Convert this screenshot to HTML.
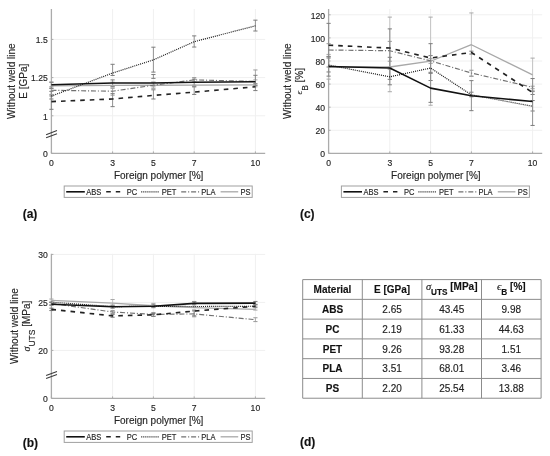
<!DOCTYPE html><html><head><meta charset="utf-8"><style>html,body{margin:0;padding:0;background:#fff;}svg{display:block;filter:blur(0.3px)} text{font-family:"Liberation Sans", Arial, Helvetica, sans-serif;fill:#262626;stroke:#262626;stroke-width:0.15px} .tk{font-size:8.6px} .lab{font-size:10px} .lg{font-size:8.2px} .pl{font-size:12px;font-weight:bold;fill:#111} .th{font-size:10px;font-weight:bold;fill:#111} .td{font-size:10px;fill:#222}</style></head><body><svg width="550" height="456" viewBox="0 0 550 456">
<rect width="550" height="456" fill="#fff"/>
<line x1="51.40" y1="115.80" x2="265.20" y2="115.80" stroke="#f0f0f0" stroke-width="1"/>
<line x1="51.40" y1="77.60" x2="265.20" y2="77.60" stroke="#f0f0f0" stroke-width="1"/>
<line x1="51.40" y1="39.40" x2="265.20" y2="39.40" stroke="#f0f0f0" stroke-width="1"/>
<line x1="112.60" y1="9.00" x2="112.60" y2="153.40" stroke="#f0f0f0" stroke-width="1"/>
<line x1="153.40" y1="9.00" x2="153.40" y2="153.40" stroke="#f0f0f0" stroke-width="1"/>
<line x1="194.20" y1="9.00" x2="194.20" y2="153.40" stroke="#f0f0f0" stroke-width="1"/>
<line x1="255.40" y1="9.00" x2="255.40" y2="153.40" stroke="#f0f0f0" stroke-width="1"/>
<line x1="51.40" y1="9.00" x2="51.40" y2="153.40" stroke="#ababab" stroke-width="1.3"/>
<line x1="51.40" y1="153.40" x2="265.20" y2="153.40" stroke="#ababab" stroke-width="1.3"/>
<path d="M51.40 88.30V82.18" stroke="#c2c2c2" stroke-width="0.95" fill="none"/>
<path d="M49.30 88.30h4.2M49.30 82.18h4.2" stroke="#a8a8a8" stroke-width="1.0" fill="none"/>
<path d="M112.60 86.77V82.18" stroke="#c2c2c2" stroke-width="0.95" fill="none"/>
<path d="M110.50 86.77h4.2M110.50 82.18h4.2" stroke="#a8a8a8" stroke-width="1.0" fill="none"/>
<path d="M153.40 86.77V82.18" stroke="#c2c2c2" stroke-width="0.95" fill="none"/>
<path d="M151.30 86.77h4.2M151.30 82.18h4.2" stroke="#a8a8a8" stroke-width="1.0" fill="none"/>
<path d="M194.20 86.77V82.18" stroke="#c2c2c2" stroke-width="0.95" fill="none"/>
<path d="M192.10 86.77h4.2M192.10 82.18h4.2" stroke="#a8a8a8" stroke-width="1.0" fill="none"/>
<path d="M255.40 86.77V79.89" stroke="#c2c2c2" stroke-width="0.95" fill="none"/>
<path d="M253.30 86.77h4.2M253.30 79.89h4.2" stroke="#a8a8a8" stroke-width="1.0" fill="none"/>
<path d="M51.40 94.41V86.77" stroke="#a8a8a8" stroke-width="0.95" fill="none"/>
<path d="M49.30 94.41h4.2M49.30 86.77h4.2" stroke="#9a9a9a" stroke-width="1.0" fill="none"/>
<path d="M112.60 95.17V88.30" stroke="#a8a8a8" stroke-width="0.95" fill="none"/>
<path d="M110.50 95.17h4.2M110.50 88.30h4.2" stroke="#9a9a9a" stroke-width="1.0" fill="none"/>
<path d="M153.40 88.30V82.18" stroke="#a8a8a8" stroke-width="0.95" fill="none"/>
<path d="M151.30 88.30h4.2M151.30 82.18h4.2" stroke="#9a9a9a" stroke-width="1.0" fill="none"/>
<path d="M194.20 82.18V77.60" stroke="#a8a8a8" stroke-width="0.95" fill="none"/>
<path d="M192.10 82.18h4.2M192.10 77.60h4.2" stroke="#9a9a9a" stroke-width="1.0" fill="none"/>
<path d="M255.40 85.24V69.96" stroke="#a8a8a8" stroke-width="0.95" fill="none"/>
<path d="M253.30 85.24h4.2M253.30 69.96h4.2" stroke="#9a9a9a" stroke-width="1.0" fill="none"/>
<path d="M51.40 98.99V91.35" stroke="#8e8e8e" stroke-width="0.95" fill="none"/>
<path d="M49.30 98.99h4.2M49.30 91.35h4.2" stroke="#7c7c7c" stroke-width="1.0" fill="none"/>
<path d="M112.60 75.46V64.31" stroke="#8e8e8e" stroke-width="0.95" fill="none"/>
<path d="M110.50 75.46h4.2M110.50 64.31h4.2" stroke="#7c7c7c" stroke-width="1.0" fill="none"/>
<path d="M153.40 72.10V47.19" stroke="#8e8e8e" stroke-width="0.95" fill="none"/>
<path d="M151.30 72.10h4.2M151.30 47.19h4.2" stroke="#7c7c7c" stroke-width="1.0" fill="none"/>
<path d="M194.20 47.04V35.89" stroke="#8e8e8e" stroke-width="0.95" fill="none"/>
<path d="M192.10 47.04h4.2M192.10 35.89h4.2" stroke="#7c7c7c" stroke-width="1.0" fill="none"/>
<path d="M255.40 31.00V20.15" stroke="#8e8e8e" stroke-width="0.95" fill="none"/>
<path d="M253.30 31.00h4.2M253.30 20.15h4.2" stroke="#7c7c7c" stroke-width="1.0" fill="none"/>
<path d="M51.40 109.31V95.94" stroke="#8e8e8e" stroke-width="0.95" fill="none"/>
<path d="M49.30 109.31h4.2M49.30 95.94h4.2" stroke="#7c7c7c" stroke-width="1.0" fill="none"/>
<path d="M112.60 106.63V93.64" stroke="#8e8e8e" stroke-width="0.95" fill="none"/>
<path d="M110.50 106.63h4.2M110.50 93.64h4.2" stroke="#7c7c7c" stroke-width="1.0" fill="none"/>
<path d="M153.40 98.99V89.82" stroke="#8e8e8e" stroke-width="0.95" fill="none"/>
<path d="M151.30 98.99h4.2M151.30 89.82h4.2" stroke="#7c7c7c" stroke-width="1.0" fill="none"/>
<path d="M194.20 94.41V86.77" stroke="#8e8e8e" stroke-width="0.95" fill="none"/>
<path d="M192.10 94.41h4.2M192.10 86.77h4.2" stroke="#7c7c7c" stroke-width="1.0" fill="none"/>
<path d="M255.40 90.59V83.71" stroke="#8e8e8e" stroke-width="0.95" fill="none"/>
<path d="M253.30 90.59h4.2M253.30 83.71h4.2" stroke="#7c7c7c" stroke-width="1.0" fill="none"/>
<path d="M51.40 88.30V82.18" stroke="#8e8e8e" stroke-width="0.95" fill="none"/>
<path d="M49.30 88.30h4.2M49.30 82.18h4.2" stroke="#7c7c7c" stroke-width="1.0" fill="none"/>
<path d="M112.60 86.77V79.89" stroke="#8e8e8e" stroke-width="0.95" fill="none"/>
<path d="M110.50 86.77h4.2M110.50 79.89h4.2" stroke="#7c7c7c" stroke-width="1.0" fill="none"/>
<path d="M153.40 78.36V74.54" stroke="#8e8e8e" stroke-width="0.95" fill="none"/>
<path d="M151.30 78.36h4.2M151.30 74.54h4.2" stroke="#7c7c7c" stroke-width="1.0" fill="none"/>
<path d="M194.20 85.24V79.13" stroke="#8e8e8e" stroke-width="0.95" fill="none"/>
<path d="M192.10 85.24h4.2M192.10 79.13h4.2" stroke="#7c7c7c" stroke-width="1.0" fill="none"/>
<path d="M255.40 85.24V75.31" stroke="#8e8e8e" stroke-width="0.95" fill="none"/>
<path d="M253.30 85.24h4.2M253.30 75.31h4.2" stroke="#7c7c7c" stroke-width="1.0" fill="none"/>
<polyline points="51.40,85.85 112.60,85.39 153.40,85.24 194.20,85.09 255.40,84.86" fill="none" stroke="#a8a8a8" stroke-width="1.3" stroke-linejoin="round"/>
<polyline points="51.40,90.28 112.60,91.20 153.40,85.24 194.20,79.89 255.40,81.42" fill="none" stroke="#707070" stroke-width="1.15" stroke-dasharray="5,1.9,1.1,1.9" stroke-linejoin="round"/>
<polyline points="51.40,96.09 112.60,73.02 153.40,59.88 194.20,41.69 255.40,25.80" fill="none" stroke="#222" stroke-width="1.2" stroke-dasharray="1.05,1.0" stroke-linejoin="round"/>
<polyline points="51.40,101.59 112.60,98.99 153.40,95.40 194.20,92.12 255.40,86.77" fill="none" stroke="#222" stroke-width="1.6" stroke-dasharray="4.6,5.0" stroke-linejoin="round"/>
<polyline points="51.40,84.71 112.60,82.95 153.40,82.95 194.20,82.18 255.40,81.73" fill="none" stroke="#111" stroke-width="1.6" stroke-linejoin="round"/>
<line x1="51.40" y1="153.40" x2="53.40" y2="153.40" stroke="#ababab" stroke-width="1"/>
<text x="47.80" y="157.10" text-anchor="end" class="tk">0</text>
<line x1="51.40" y1="115.80" x2="53.40" y2="115.80" stroke="#ababab" stroke-width="1"/>
<text x="47.80" y="119.50" text-anchor="end" class="tk">1</text>
<line x1="51.40" y1="77.60" x2="53.40" y2="77.60" stroke="#ababab" stroke-width="1"/>
<text x="47.80" y="81.30" text-anchor="end" class="tk">1.25</text>
<line x1="51.40" y1="39.40" x2="53.40" y2="39.40" stroke="#ababab" stroke-width="1"/>
<text x="47.80" y="43.10" text-anchor="end" class="tk">1.5</text>
<line x1="51.40" y1="153.40" x2="51.40" y2="151.40" stroke="#ababab" stroke-width="1"/>
<text x="51.40" y="165.90" text-anchor="middle" class="tk">0</text>
<line x1="112.60" y1="153.40" x2="112.60" y2="151.40" stroke="#ababab" stroke-width="1"/>
<text x="112.60" y="165.90" text-anchor="middle" class="tk">3</text>
<line x1="153.40" y1="153.40" x2="153.40" y2="151.40" stroke="#ababab" stroke-width="1"/>
<text x="153.40" y="165.90" text-anchor="middle" class="tk">5</text>
<line x1="194.20" y1="153.40" x2="194.20" y2="151.40" stroke="#ababab" stroke-width="1"/>
<text x="194.20" y="165.90" text-anchor="middle" class="tk">7</text>
<line x1="255.40" y1="153.40" x2="255.40" y2="151.40" stroke="#ababab" stroke-width="1"/>
<text x="255.40" y="165.90" text-anchor="middle" class="tk">10</text>
<path d="M46.10 134.70L57.00 130.60M46.10 137.80L57.00 133.70" stroke="#3c3c3c" stroke-width="1.1" fill="none"/>
<text x="113.90" y="179.00" class="lab">Foreign polymer [%]</text>
<text transform="translate(14.60,81.20) rotate(-90)" text-anchor="middle" class="lab">Without weld line</text>
<text transform="translate(26.80,81.20) rotate(-90)" text-anchor="middle" class="lab">E [GPa]</text>
<rect x="64.20" y="186.00" width="188" height="11.4" fill="#fff" stroke="#a0a0a0" stroke-width="1"/>
<line x1="66.20" y1="191.80" x2="84.80" y2="191.80" stroke="#111" stroke-width="1.6"/>
<text transform="translate(86.20,194.70) scale(0.92,1)" class="lg">ABS</text>
<line x1="106.20" y1="191.80" x2="120.20" y2="191.80" stroke="#222" stroke-width="1.6" stroke-dasharray="4.6,5.0"/>
<text transform="translate(126.70,194.70) scale(0.92,1)" class="lg">PC</text>
<line x1="141.20" y1="191.80" x2="159.20" y2="191.80" stroke="#222" stroke-width="1.2" stroke-dasharray="1.05,1.0"/>
<text transform="translate(161.80,194.70) scale(0.92,1)" class="lg">PET</text>
<line x1="181.20" y1="191.80" x2="199.20" y2="191.80" stroke="#707070" stroke-width="1.15" stroke-dasharray="5,1.9,1.1,1.9"/>
<text transform="translate(201.20,194.70) scale(0.92,1)" class="lg">PLA</text>
<line x1="220.60" y1="191.80" x2="238.20" y2="191.80" stroke="#a8a8a8" stroke-width="1.3"/>
<text transform="translate(240.60,194.70) scale(0.92,1)" class="lg">PS</text>
<line x1="328.60" y1="130.30" x2="542.20" y2="130.30" stroke="#f0f0f0" stroke-width="1"/>
<line x1="328.60" y1="107.20" x2="542.20" y2="107.20" stroke="#f0f0f0" stroke-width="1"/>
<line x1="328.60" y1="84.10" x2="542.20" y2="84.10" stroke="#f0f0f0" stroke-width="1"/>
<line x1="328.60" y1="61.00" x2="542.20" y2="61.00" stroke="#f0f0f0" stroke-width="1"/>
<line x1="328.60" y1="37.90" x2="542.20" y2="37.90" stroke="#f0f0f0" stroke-width="1"/>
<line x1="328.60" y1="14.80" x2="542.20" y2="14.80" stroke="#f0f0f0" stroke-width="1"/>
<line x1="389.80" y1="9.00" x2="389.80" y2="153.40" stroke="#f0f0f0" stroke-width="1"/>
<line x1="430.60" y1="9.00" x2="430.60" y2="153.40" stroke="#f0f0f0" stroke-width="1"/>
<line x1="471.40" y1="9.00" x2="471.40" y2="153.40" stroke="#f0f0f0" stroke-width="1"/>
<line x1="532.60" y1="9.00" x2="532.60" y2="153.40" stroke="#f0f0f0" stroke-width="1"/>
<line x1="328.60" y1="9.00" x2="328.60" y2="153.40" stroke="#ababab" stroke-width="1.3"/>
<line x1="328.60" y1="153.40" x2="542.20" y2="153.40" stroke="#ababab" stroke-width="1.3"/>
<path d="M328.60 79.13V54.42" stroke="#c2c2c2" stroke-width="0.95" fill="none"/>
<path d="M326.50 79.13h4.2M326.50 54.42h4.2" stroke="#a8a8a8" stroke-width="1.0" fill="none"/>
<path d="M389.80 91.72V17.11" stroke="#c2c2c2" stroke-width="0.95" fill="none"/>
<path d="M387.70 91.72h4.2M387.70 17.11h4.2" stroke="#a8a8a8" stroke-width="1.0" fill="none"/>
<path d="M430.60 105.24V17.11" stroke="#c2c2c2" stroke-width="0.95" fill="none"/>
<path d="M428.50 105.24h4.2M428.50 17.11h4.2" stroke="#a8a8a8" stroke-width="1.0" fill="none"/>
<path d="M471.40 76.48V12.95" stroke="#c2c2c2" stroke-width="0.95" fill="none"/>
<path d="M469.30 76.48h4.2M469.30 12.95h4.2" stroke="#a8a8a8" stroke-width="1.0" fill="none"/>
<path d="M532.60 91.61V58.11" stroke="#c2c2c2" stroke-width="0.95" fill="none"/>
<path d="M530.50 91.61h4.2M530.50 58.11h4.2" stroke="#a8a8a8" stroke-width="1.0" fill="none"/>
<path d="M328.60 56.38V43.67" stroke="#a8a8a8" stroke-width="0.95" fill="none"/>
<path d="M326.50 56.38h4.2M326.50 43.67h4.2" stroke="#9a9a9a" stroke-width="1.0" fill="none"/>
<path d="M389.80 61.23V41.37" stroke="#a8a8a8" stroke-width="0.95" fill="none"/>
<path d="M387.70 61.23h4.2M387.70 41.37h4.2" stroke="#9a9a9a" stroke-width="1.0" fill="none"/>
<path d="M430.60 63.31V58.69" stroke="#a8a8a8" stroke-width="0.95" fill="none"/>
<path d="M428.50 63.31h4.2M428.50 58.69h4.2" stroke="#9a9a9a" stroke-width="1.0" fill="none"/>
<path d="M471.40 76.02V70.24" stroke="#a8a8a8" stroke-width="0.95" fill="none"/>
<path d="M469.30 76.02h4.2M469.30 70.24h4.2" stroke="#9a9a9a" stroke-width="1.0" fill="none"/>
<path d="M532.60 88.72V86.18" stroke="#a8a8a8" stroke-width="0.95" fill="none"/>
<path d="M530.50 88.72h4.2M530.50 86.18h4.2" stroke="#9a9a9a" stroke-width="1.0" fill="none"/>
<path d="M328.60 71.97V58.00" stroke="#8e8e8e" stroke-width="0.95" fill="none"/>
<path d="M326.50 71.97h4.2M326.50 58.00h4.2" stroke="#7c7c7c" stroke-width="1.0" fill="none"/>
<path d="M389.80 84.79V69.09" stroke="#8e8e8e" stroke-width="0.95" fill="none"/>
<path d="M387.70 84.79h4.2M387.70 69.09h4.2" stroke="#7c7c7c" stroke-width="1.0" fill="none"/>
<path d="M430.60 80.52V55.57" stroke="#8e8e8e" stroke-width="0.95" fill="none"/>
<path d="M428.50 80.52h4.2M428.50 55.57h4.2" stroke="#7c7c7c" stroke-width="1.0" fill="none"/>
<path d="M471.40 96.81V92.19" stroke="#8e8e8e" stroke-width="0.95" fill="none"/>
<path d="M469.30 96.81h4.2M469.30 92.19h4.2" stroke="#7c7c7c" stroke-width="1.0" fill="none"/>
<path d="M532.60 111.01V100.50" stroke="#8e8e8e" stroke-width="0.95" fill="none"/>
<path d="M530.50 111.01h4.2M530.50 100.50h4.2" stroke="#7c7c7c" stroke-width="1.0" fill="none"/>
<path d="M328.60 67.01V23.35" stroke="#8e8e8e" stroke-width="0.95" fill="none"/>
<path d="M326.50 67.01h4.2M326.50 23.35h4.2" stroke="#7c7c7c" stroke-width="1.0" fill="none"/>
<path d="M389.80 67.24V28.89" stroke="#8e8e8e" stroke-width="0.95" fill="none"/>
<path d="M387.70 67.24h4.2M387.70 28.89h4.2" stroke="#7c7c7c" stroke-width="1.0" fill="none"/>
<path d="M430.60 72.32V43.67" stroke="#8e8e8e" stroke-width="0.95" fill="none"/>
<path d="M428.50 72.32h4.2M428.50 43.67h4.2" stroke="#7c7c7c" stroke-width="1.0" fill="none"/>
<path d="M471.40 54.07V51.18" stroke="#8e8e8e" stroke-width="0.95" fill="none"/>
<path d="M469.30 54.07h4.2M469.30 51.18h4.2" stroke="#7c7c7c" stroke-width="1.0" fill="none"/>
<path d="M532.60 94.50V91.03" stroke="#8e8e8e" stroke-width="0.95" fill="none"/>
<path d="M530.50 94.50h4.2M530.50 91.03h4.2" stroke="#7c7c7c" stroke-width="1.0" fill="none"/>
<path d="M328.60 76.13V56.73" stroke="#8e8e8e" stroke-width="0.95" fill="none"/>
<path d="M326.50 76.13h4.2M326.50 56.73h4.2" stroke="#7c7c7c" stroke-width="1.0" fill="none"/>
<path d="M389.80 79.36V57.30" stroke="#8e8e8e" stroke-width="0.95" fill="none"/>
<path d="M387.70 79.36h4.2M387.70 57.30h4.2" stroke="#7c7c7c" stroke-width="1.0" fill="none"/>
<path d="M430.60 102.35V73.36" stroke="#8e8e8e" stroke-width="0.95" fill="none"/>
<path d="M428.50 102.35h4.2M428.50 73.36h4.2" stroke="#7c7c7c" stroke-width="1.0" fill="none"/>
<path d="M471.40 110.67V80.64" stroke="#8e8e8e" stroke-width="0.95" fill="none"/>
<path d="M469.30 110.67h4.2M469.30 80.64h4.2" stroke="#7c7c7c" stroke-width="1.0" fill="none"/>
<path d="M532.60 125.45V78.56" stroke="#8e8e8e" stroke-width="0.95" fill="none"/>
<path d="M530.50 125.45h4.2M530.50 78.56h4.2" stroke="#7c7c7c" stroke-width="1.0" fill="none"/>
<polyline points="328.60,66.78 389.80,67.01 430.60,61.23 471.40,44.71 532.60,74.86" fill="none" stroke="#a8a8a8" stroke-width="1.3" stroke-linejoin="round"/>
<polyline points="328.60,50.03 389.80,50.72 430.60,60.88 471.40,73.01 532.60,87.33" fill="none" stroke="#707070" stroke-width="1.15" stroke-dasharray="5,1.9,1.1,1.9" stroke-linejoin="round"/>
<polyline points="328.60,65.04 389.80,76.82 430.60,68.05 471.40,94.84 532.60,106.28" fill="none" stroke="#222" stroke-width="1.2" stroke-dasharray="1.05,1.0" stroke-linejoin="round"/>
<polyline points="328.60,45.18 389.80,48.06 430.60,58.00 471.40,52.45 532.60,92.53" fill="none" stroke="#222" stroke-width="1.6" stroke-dasharray="4.6,5.0" stroke-linejoin="round"/>
<polyline points="328.60,66.43 389.80,68.05 430.60,88.14 471.40,95.77 532.60,101.54" fill="none" stroke="#111" stroke-width="1.6" stroke-linejoin="round"/>
<line x1="328.60" y1="153.40" x2="330.60" y2="153.40" stroke="#ababab" stroke-width="1"/>
<text x="325.00" y="157.10" text-anchor="end" class="tk">0</text>
<line x1="328.60" y1="130.30" x2="330.60" y2="130.30" stroke="#ababab" stroke-width="1"/>
<text x="325.00" y="134.00" text-anchor="end" class="tk">20</text>
<line x1="328.60" y1="107.20" x2="330.60" y2="107.20" stroke="#ababab" stroke-width="1"/>
<text x="325.00" y="110.90" text-anchor="end" class="tk">40</text>
<line x1="328.60" y1="84.10" x2="330.60" y2="84.10" stroke="#ababab" stroke-width="1"/>
<text x="325.00" y="87.80" text-anchor="end" class="tk">60</text>
<line x1="328.60" y1="61.00" x2="330.60" y2="61.00" stroke="#ababab" stroke-width="1"/>
<text x="325.00" y="64.70" text-anchor="end" class="tk">80</text>
<line x1="328.60" y1="37.90" x2="330.60" y2="37.90" stroke="#ababab" stroke-width="1"/>
<text x="325.00" y="41.60" text-anchor="end" class="tk">100</text>
<line x1="328.60" y1="14.80" x2="330.60" y2="14.80" stroke="#ababab" stroke-width="1"/>
<text x="325.00" y="18.50" text-anchor="end" class="tk">120</text>
<line x1="328.60" y1="153.40" x2="328.60" y2="151.40" stroke="#ababab" stroke-width="1"/>
<text x="328.60" y="165.90" text-anchor="middle" class="tk">0</text>
<line x1="389.80" y1="153.40" x2="389.80" y2="151.40" stroke="#ababab" stroke-width="1"/>
<text x="389.80" y="165.90" text-anchor="middle" class="tk">3</text>
<line x1="430.60" y1="153.40" x2="430.60" y2="151.40" stroke="#ababab" stroke-width="1"/>
<text x="430.60" y="165.90" text-anchor="middle" class="tk">5</text>
<line x1="471.40" y1="153.40" x2="471.40" y2="151.40" stroke="#ababab" stroke-width="1"/>
<text x="471.40" y="165.90" text-anchor="middle" class="tk">7</text>
<line x1="532.60" y1="153.40" x2="532.60" y2="151.40" stroke="#ababab" stroke-width="1"/>
<text x="532.60" y="165.90" text-anchor="middle" class="tk">10</text>
<text x="391.10" y="179.00" class="lab">Foreign polymer [%]</text>
<text transform="translate(291.10,81.20) rotate(-90)" text-anchor="middle" class="lab">Without weld line</text>
<text transform="translate(302.60,81.20) rotate(-90)" text-anchor="middle" class="lab"><tspan font-family="Liberation Serif, serif" font-style="italic" font-size="8.8px" dy="-0.6">&#1013;</tspan><tspan font-size="8.5px" dy="5.8">B</tspan><tspan dy="-5.2"> [%]</tspan></text>
<rect x="341.40" y="186.00" width="188" height="11.4" fill="#fff" stroke="#a0a0a0" stroke-width="1"/>
<line x1="343.40" y1="191.80" x2="362.00" y2="191.80" stroke="#111" stroke-width="1.6"/>
<text transform="translate(363.40,194.70) scale(0.92,1)" class="lg">ABS</text>
<line x1="383.40" y1="191.80" x2="397.40" y2="191.80" stroke="#222" stroke-width="1.6" stroke-dasharray="4.6,5.0"/>
<text transform="translate(403.90,194.70) scale(0.92,1)" class="lg">PC</text>
<line x1="418.40" y1="191.80" x2="436.40" y2="191.80" stroke="#222" stroke-width="1.2" stroke-dasharray="1.05,1.0"/>
<text transform="translate(439.00,194.70) scale(0.92,1)" class="lg">PET</text>
<line x1="458.40" y1="191.80" x2="476.40" y2="191.80" stroke="#707070" stroke-width="1.15" stroke-dasharray="5,1.9,1.1,1.9"/>
<text transform="translate(478.40,194.70) scale(0.92,1)" class="lg">PLA</text>
<line x1="497.80" y1="191.80" x2="515.40" y2="191.80" stroke="#a8a8a8" stroke-width="1.3"/>
<text transform="translate(517.80,194.70) scale(0.92,1)" class="lg">PS</text>
<line x1="51.40" y1="350.40" x2="265.20" y2="350.40" stroke="#f0f0f0" stroke-width="1"/>
<line x1="51.40" y1="302.40" x2="265.20" y2="302.40" stroke="#f0f0f0" stroke-width="1"/>
<line x1="51.40" y1="254.40" x2="265.20" y2="254.40" stroke="#f0f0f0" stroke-width="1"/>
<line x1="112.60" y1="253.80" x2="112.60" y2="398.40" stroke="#f0f0f0" stroke-width="1"/>
<line x1="153.40" y1="253.80" x2="153.40" y2="398.40" stroke="#f0f0f0" stroke-width="1"/>
<line x1="194.20" y1="253.80" x2="194.20" y2="398.40" stroke="#f0f0f0" stroke-width="1"/>
<line x1="255.40" y1="253.80" x2="255.40" y2="398.40" stroke="#f0f0f0" stroke-width="1"/>
<line x1="51.40" y1="253.80" x2="51.40" y2="398.40" stroke="#ababab" stroke-width="1.3"/>
<line x1="51.40" y1="398.40" x2="265.20" y2="398.40" stroke="#ababab" stroke-width="1.3"/>
<path d="M51.40 302.40V299.04" stroke="#c2c2c2" stroke-width="0.95" fill="none"/>
<path d="M49.30 302.40h4.2M49.30 299.04h4.2" stroke="#a8a8a8" stroke-width="1.0" fill="none"/>
<path d="M112.60 305.28V299.52" stroke="#c2c2c2" stroke-width="0.95" fill="none"/>
<path d="M110.50 305.28h4.2M110.50 299.52h4.2" stroke="#a8a8a8" stroke-width="1.0" fill="none"/>
<path d="M153.40 307.20V303.36" stroke="#c2c2c2" stroke-width="0.95" fill="none"/>
<path d="M151.30 307.20h4.2M151.30 303.36h4.2" stroke="#a8a8a8" stroke-width="1.0" fill="none"/>
<path d="M194.20 307.20V301.44" stroke="#c2c2c2" stroke-width="0.95" fill="none"/>
<path d="M192.10 307.20h4.2M192.10 301.44h4.2" stroke="#a8a8a8" stroke-width="1.0" fill="none"/>
<path d="M255.40 310.08V306.24" stroke="#c2c2c2" stroke-width="0.95" fill="none"/>
<path d="M253.30 310.08h4.2M253.30 306.24h4.2" stroke="#a8a8a8" stroke-width="1.0" fill="none"/>
<path d="M51.40 304.80V301.92" stroke="#a8a8a8" stroke-width="0.95" fill="none"/>
<path d="M49.30 304.80h4.2M49.30 301.92h4.2" stroke="#9a9a9a" stroke-width="1.0" fill="none"/>
<path d="M112.60 313.44V310.56" stroke="#a8a8a8" stroke-width="0.95" fill="none"/>
<path d="M110.50 313.44h4.2M110.50 310.56h4.2" stroke="#9a9a9a" stroke-width="1.0" fill="none"/>
<path d="M153.40 316.32V312.48" stroke="#a8a8a8" stroke-width="0.95" fill="none"/>
<path d="M151.30 316.32h4.2M151.30 312.48h4.2" stroke="#9a9a9a" stroke-width="1.0" fill="none"/>
<path d="M194.20 316.80V311.04" stroke="#a8a8a8" stroke-width="0.95" fill="none"/>
<path d="M192.10 316.80h4.2M192.10 311.04h4.2" stroke="#9a9a9a" stroke-width="1.0" fill="none"/>
<path d="M255.40 321.60V317.76" stroke="#a8a8a8" stroke-width="0.95" fill="none"/>
<path d="M253.30 321.60h4.2M253.30 317.76h4.2" stroke="#9a9a9a" stroke-width="1.0" fill="none"/>
<path d="M51.40 310.56V308.16" stroke="#8e8e8e" stroke-width="0.95" fill="none"/>
<path d="M49.30 310.56h4.2M49.30 308.16h4.2" stroke="#7c7c7c" stroke-width="1.0" fill="none"/>
<path d="M112.60 317.28V314.40" stroke="#8e8e8e" stroke-width="0.95" fill="none"/>
<path d="M110.50 317.28h4.2M110.50 314.40h4.2" stroke="#7c7c7c" stroke-width="1.0" fill="none"/>
<path d="M153.40 316.32V313.44" stroke="#8e8e8e" stroke-width="0.95" fill="none"/>
<path d="M151.30 316.32h4.2M151.30 313.44h4.2" stroke="#7c7c7c" stroke-width="1.0" fill="none"/>
<path d="M194.20 315.84V310.08" stroke="#8e8e8e" stroke-width="0.95" fill="none"/>
<path d="M192.10 315.84h4.2M192.10 310.08h4.2" stroke="#7c7c7c" stroke-width="1.0" fill="none"/>
<path d="M255.40 307.68V304.80" stroke="#8e8e8e" stroke-width="0.95" fill="none"/>
<path d="M253.30 307.68h4.2M253.30 304.80h4.2" stroke="#7c7c7c" stroke-width="1.0" fill="none"/>
<path d="M51.40 305.28V302.40" stroke="#8e8e8e" stroke-width="0.95" fill="none"/>
<path d="M49.30 305.28h4.2M49.30 302.40h4.2" stroke="#7c7c7c" stroke-width="1.0" fill="none"/>
<path d="M112.60 308.16V305.28" stroke="#8e8e8e" stroke-width="0.95" fill="none"/>
<path d="M110.50 308.16h4.2M110.50 305.28h4.2" stroke="#7c7c7c" stroke-width="1.0" fill="none"/>
<path d="M153.40 307.68V304.80" stroke="#8e8e8e" stroke-width="0.95" fill="none"/>
<path d="M151.30 307.68h4.2M151.30 304.80h4.2" stroke="#7c7c7c" stroke-width="1.0" fill="none"/>
<path d="M194.20 304.80V301.92" stroke="#8e8e8e" stroke-width="0.95" fill="none"/>
<path d="M192.10 304.80h4.2M192.10 301.92h4.2" stroke="#7c7c7c" stroke-width="1.0" fill="none"/>
<path d="M255.40 304.32V301.44" stroke="#8e8e8e" stroke-width="0.95" fill="none"/>
<path d="M253.30 304.32h4.2M253.30 301.44h4.2" stroke="#7c7c7c" stroke-width="1.0" fill="none"/>
<polyline points="51.40,300.29 112.60,303.17 153.40,305.76 194.20,307.68 255.40,309.41" fill="none" stroke="#a8a8a8" stroke-width="1.3" stroke-linejoin="round"/>
<polyline points="51.40,303.36 112.60,312.00 153.40,314.40 194.20,313.92 255.40,319.68" fill="none" stroke="#707070" stroke-width="1.15" stroke-dasharray="5,1.9,1.1,1.9" stroke-linejoin="round"/>
<polyline points="51.40,302.21 112.60,306.62 153.40,306.24 194.20,306.53 255.40,306.24" fill="none" stroke="#222" stroke-width="1.2" stroke-dasharray="1.05,1.0" stroke-linejoin="round"/>
<polyline points="51.40,309.41 112.60,315.84 153.40,314.88 194.20,311.04 255.40,306.24" fill="none" stroke="#222" stroke-width="1.6" stroke-dasharray="4.6,5.0" stroke-linejoin="round"/>
<polyline points="51.40,304.32 112.60,306.72 153.40,306.24 194.20,303.36 255.40,303.17" fill="none" stroke="#111" stroke-width="1.6" stroke-linejoin="round"/>
<line x1="51.40" y1="398.40" x2="53.40" y2="398.40" stroke="#ababab" stroke-width="1"/>
<text x="47.80" y="402.10" text-anchor="end" class="tk">0</text>
<line x1="51.40" y1="350.40" x2="53.40" y2="350.40" stroke="#ababab" stroke-width="1"/>
<text x="47.80" y="354.10" text-anchor="end" class="tk">20</text>
<line x1="51.40" y1="302.40" x2="53.40" y2="302.40" stroke="#ababab" stroke-width="1"/>
<text x="47.80" y="306.10" text-anchor="end" class="tk">25</text>
<line x1="51.40" y1="254.40" x2="53.40" y2="254.40" stroke="#ababab" stroke-width="1"/>
<text x="47.80" y="258.10" text-anchor="end" class="tk">30</text>
<line x1="51.40" y1="398.40" x2="51.40" y2="396.40" stroke="#ababab" stroke-width="1"/>
<text x="51.40" y="410.90" text-anchor="middle" class="tk">0</text>
<line x1="112.60" y1="398.40" x2="112.60" y2="396.40" stroke="#ababab" stroke-width="1"/>
<text x="112.60" y="410.90" text-anchor="middle" class="tk">3</text>
<line x1="153.40" y1="398.40" x2="153.40" y2="396.40" stroke="#ababab" stroke-width="1"/>
<text x="153.40" y="410.90" text-anchor="middle" class="tk">5</text>
<line x1="194.20" y1="398.40" x2="194.20" y2="396.40" stroke="#ababab" stroke-width="1"/>
<text x="194.20" y="410.90" text-anchor="middle" class="tk">7</text>
<line x1="255.40" y1="398.40" x2="255.40" y2="396.40" stroke="#ababab" stroke-width="1"/>
<text x="255.40" y="410.90" text-anchor="middle" class="tk">10</text>
<path d="M46.10 375.50L57.00 371.40M46.10 378.60L57.00 374.50" stroke="#3c3c3c" stroke-width="1.1" fill="none"/>
<text x="113.90" y="424.00" class="lab">Foreign polymer [%]</text>
<text transform="translate(17.50,326.10) rotate(-90)" text-anchor="middle" class="lab">Without weld line</text>
<text transform="translate(29.50,326.10) rotate(-90)" text-anchor="middle" class="lab"><tspan font-family="Liberation Serif, serif" font-style="italic" font-size="10px">&#963;</tspan><tspan font-size="8.5px" dy="5">UTS</tspan><tspan dy="-5"> [MPa]</tspan></text>
<rect x="64.20" y="431.00" width="188" height="11.4" fill="#fff" stroke="#a0a0a0" stroke-width="1"/>
<line x1="66.20" y1="436.80" x2="84.80" y2="436.80" stroke="#111" stroke-width="1.6"/>
<text transform="translate(86.20,439.70) scale(0.92,1)" class="lg">ABS</text>
<line x1="106.20" y1="436.80" x2="120.20" y2="436.80" stroke="#222" stroke-width="1.6" stroke-dasharray="4.6,5.0"/>
<text transform="translate(126.70,439.70) scale(0.92,1)" class="lg">PC</text>
<line x1="141.20" y1="436.80" x2="159.20" y2="436.80" stroke="#222" stroke-width="1.2" stroke-dasharray="1.05,1.0"/>
<text transform="translate(161.80,439.70) scale(0.92,1)" class="lg">PET</text>
<line x1="181.20" y1="436.80" x2="199.20" y2="436.80" stroke="#707070" stroke-width="1.15" stroke-dasharray="5,1.9,1.1,1.9"/>
<text transform="translate(201.20,439.70) scale(0.92,1)" class="lg">PLA</text>
<line x1="220.60" y1="436.80" x2="238.20" y2="436.80" stroke="#a8a8a8" stroke-width="1.3"/>
<text transform="translate(240.60,439.70) scale(0.92,1)" class="lg">PS</text>
<text x="22.7" y="218.2" class="pl">(a)</text>
<text x="299.9" y="218.2" class="pl">(c)</text>
<text x="22.7" y="446.6" class="pl">(b)</text>
<text x="299.9" y="445.9" class="pl">(d)</text>
<line x1="302.70" y1="279.60" x2="541.10" y2="279.60" stroke="#8c8c8c" stroke-width="1"/>
<line x1="302.70" y1="299.37" x2="541.10" y2="299.37" stroke="#8c8c8c" stroke-width="1"/>
<line x1="302.70" y1="319.14" x2="541.10" y2="319.14" stroke="#8c8c8c" stroke-width="1"/>
<line x1="302.70" y1="338.91" x2="541.10" y2="338.91" stroke="#8c8c8c" stroke-width="1"/>
<line x1="302.70" y1="358.68" x2="541.10" y2="358.68" stroke="#8c8c8c" stroke-width="1"/>
<line x1="302.70" y1="378.45" x2="541.10" y2="378.45" stroke="#8c8c8c" stroke-width="1"/>
<line x1="302.70" y1="398.22" x2="541.10" y2="398.22" stroke="#8c8c8c" stroke-width="1"/>
<line x1="302.70" y1="279.60" x2="302.70" y2="398.22" stroke="#8c8c8c" stroke-width="1"/>
<line x1="362.30" y1="279.60" x2="362.30" y2="398.22" stroke="#8c8c8c" stroke-width="1"/>
<line x1="421.90" y1="279.60" x2="421.90" y2="398.22" stroke="#8c8c8c" stroke-width="1"/>
<line x1="481.50" y1="279.60" x2="481.50" y2="398.22" stroke="#8c8c8c" stroke-width="1"/>
<line x1="541.10" y1="279.60" x2="541.10" y2="398.22" stroke="#8c8c8c" stroke-width="1"/>
<text x="332.50" y="293.00" text-anchor="middle" class="th">Material</text>
<text x="392.10" y="293.00" text-anchor="middle" class="th">E [GPa]</text>
<text x="451.70" y="290.30" text-anchor="middle" class="th"><tspan font-family="Liberation Serif, serif" font-style="italic" font-weight="normal" font-size="10.5px">&#963;</tspan><tspan font-size="8.2px" dy="5">UTS</tspan><tspan dy="-5"> [MPa]</tspan></text>
<text x="511.30" y="290.30" text-anchor="middle" class="th"><tspan font-family="Liberation Serif, serif" font-style="italic" font-weight="normal" font-size="11px">&#1013;</tspan><tspan font-size="8.3px" dy="4.9">B</tspan><tspan dy="-4.9"> [%]</tspan></text>
<text x="332.50" y="312.97" text-anchor="middle" class="th">ABS</text>
<text x="392.10" y="312.97" text-anchor="middle" class="td">2.65</text>
<text x="451.70" y="312.97" text-anchor="middle" class="td">43.45</text>
<text x="511.30" y="312.97" text-anchor="middle" class="td">9.98</text>
<text x="332.50" y="332.74" text-anchor="middle" class="th">PC</text>
<text x="392.10" y="332.74" text-anchor="middle" class="td">2.19</text>
<text x="451.70" y="332.74" text-anchor="middle" class="td">61.33</text>
<text x="511.30" y="332.74" text-anchor="middle" class="td">44.63</text>
<text x="332.50" y="352.51" text-anchor="middle" class="th">PET</text>
<text x="392.10" y="352.51" text-anchor="middle" class="td">9.26</text>
<text x="451.70" y="352.51" text-anchor="middle" class="td">93.28</text>
<text x="511.30" y="352.51" text-anchor="middle" class="td">1.51</text>
<text x="332.50" y="372.28" text-anchor="middle" class="th">PLA</text>
<text x="392.10" y="372.28" text-anchor="middle" class="td">3.51</text>
<text x="451.70" y="372.28" text-anchor="middle" class="td">68.01</text>
<text x="511.30" y="372.28" text-anchor="middle" class="td">3.46</text>
<text x="332.50" y="392.05" text-anchor="middle" class="th">PS</text>
<text x="392.10" y="392.05" text-anchor="middle" class="td">2.20</text>
<text x="451.70" y="392.05" text-anchor="middle" class="td">25.54</text>
<text x="511.30" y="392.05" text-anchor="middle" class="td">13.88</text>
</svg></body></html>
